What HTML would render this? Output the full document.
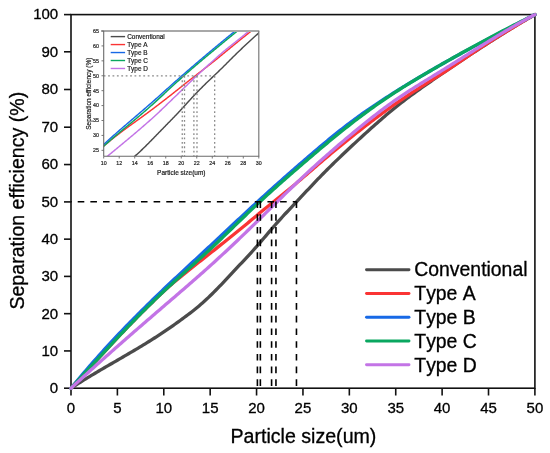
<!DOCTYPE html><html><head><meta charset="utf-8"><style>html,body{margin:0;padding:0;background:#fff;}svg{display:block;} text{font-kerning:none;} .t{stroke:#000;stroke-width:0.3px;} .it{stroke:#222;stroke-width:0.2px;}</style></head><body>
<svg width="550" height="453" viewBox="0 0 550 453" font-family='"Liberation Sans", Arial, sans-serif'>
<rect width="550" height="453" fill="#fff"/>
<rect x="71.0" y="14.6" width="463.90" height="373.60" fill="none" stroke="#111" stroke-width="1.6"/>
<line x1="71.00" y1="388.2" x2="71.00" y2="395.50" stroke="#111" stroke-width="1.6"/>
<text x="71.00" y="412.8" font-size="15" text-anchor="middle" fill="#000" class="t">0</text>
<line x1="71.0" y1="388.20" x2="64.0" y2="388.20" stroke="#111" stroke-width="1.6"/>
<text x="58.2" y="393.05" font-size="15" text-anchor="end" fill="#000" class="t">0</text>
<line x1="117.39" y1="388.2" x2="117.39" y2="395.50" stroke="#111" stroke-width="1.6"/>
<text x="117.39" y="412.8" font-size="15" text-anchor="middle" fill="#000" class="t">5</text>
<line x1="71.0" y1="350.93" x2="64.0" y2="350.93" stroke="#111" stroke-width="1.6"/>
<text x="58.2" y="355.78" font-size="15" text-anchor="end" fill="#000" class="t">10</text>
<line x1="163.78" y1="388.2" x2="163.78" y2="395.50" stroke="#111" stroke-width="1.6"/>
<text x="163.78" y="412.8" font-size="15" text-anchor="middle" fill="#000" class="t">10</text>
<line x1="71.0" y1="313.67" x2="64.0" y2="313.67" stroke="#111" stroke-width="1.6"/>
<text x="58.2" y="318.52" font-size="15" text-anchor="end" fill="#000" class="t">20</text>
<line x1="210.17" y1="388.2" x2="210.17" y2="395.50" stroke="#111" stroke-width="1.6"/>
<text x="210.17" y="412.8" font-size="15" text-anchor="middle" fill="#000" class="t">15</text>
<line x1="71.0" y1="276.40" x2="64.0" y2="276.40" stroke="#111" stroke-width="1.6"/>
<text x="58.2" y="281.25" font-size="15" text-anchor="end" fill="#000" class="t">30</text>
<line x1="256.56" y1="388.2" x2="256.56" y2="395.50" stroke="#111" stroke-width="1.6"/>
<text x="256.56" y="412.8" font-size="15" text-anchor="middle" fill="#000" class="t">20</text>
<line x1="71.0" y1="239.15" x2="64.0" y2="239.15" stroke="#111" stroke-width="1.6"/>
<text x="58.2" y="244.00" font-size="15" text-anchor="end" fill="#000" class="t">40</text>
<line x1="302.95" y1="388.2" x2="302.95" y2="395.50" stroke="#111" stroke-width="1.6"/>
<text x="302.95" y="412.8" font-size="15" text-anchor="middle" fill="#000" class="t">25</text>
<line x1="71.0" y1="201.90" x2="64.0" y2="201.90" stroke="#111" stroke-width="1.6"/>
<text x="58.2" y="206.75" font-size="15" text-anchor="end" fill="#000" class="t">50</text>
<line x1="349.34" y1="388.2" x2="349.34" y2="395.50" stroke="#111" stroke-width="1.6"/>
<text x="349.34" y="412.8" font-size="15" text-anchor="middle" fill="#000" class="t">30</text>
<line x1="71.0" y1="164.55" x2="64.0" y2="164.55" stroke="#111" stroke-width="1.6"/>
<text x="58.2" y="169.40" font-size="15" text-anchor="end" fill="#000" class="t">60</text>
<line x1="395.73" y1="388.2" x2="395.73" y2="395.50" stroke="#111" stroke-width="1.6"/>
<text x="395.73" y="412.8" font-size="15" text-anchor="middle" fill="#000" class="t">35</text>
<line x1="71.0" y1="127.20" x2="64.0" y2="127.20" stroke="#111" stroke-width="1.6"/>
<text x="58.2" y="132.05" font-size="15" text-anchor="end" fill="#000" class="t">70</text>
<line x1="442.12" y1="388.2" x2="442.12" y2="395.50" stroke="#111" stroke-width="1.6"/>
<text x="442.12" y="412.8" font-size="15" text-anchor="middle" fill="#000" class="t">40</text>
<line x1="71.0" y1="89.50" x2="64.0" y2="89.50" stroke="#111" stroke-width="1.6"/>
<text x="58.2" y="94.35" font-size="15" text-anchor="end" fill="#000" class="t">80</text>
<line x1="488.51" y1="388.2" x2="488.51" y2="395.50" stroke="#111" stroke-width="1.6"/>
<text x="488.51" y="412.8" font-size="15" text-anchor="middle" fill="#000" class="t">45</text>
<line x1="71.0" y1="51.80" x2="64.0" y2="51.80" stroke="#111" stroke-width="1.6"/>
<text x="58.2" y="56.65" font-size="15" text-anchor="end" fill="#000" class="t">90</text>
<line x1="534.90" y1="388.2" x2="534.90" y2="395.50" stroke="#111" stroke-width="1.6"/>
<text x="534.90" y="412.8" font-size="15" text-anchor="middle" fill="#000" class="t">50</text>
<line x1="71.0" y1="14.60" x2="64.0" y2="14.60" stroke="#111" stroke-width="1.6"/>
<text x="58.2" y="19.45" font-size="15" text-anchor="end" fill="#000" class="t">100</text>
<text x="230.5" y="442.8" font-size="19.6" fill="#000" class="t">Particle size(um)</text>
<text transform="translate(24.4,309.6) rotate(-90)" x="0" y="0" font-size="19.6" fill="#000" class="t">Separation efficiency (%)</text>
<polyline points="71.00,388.20 72.86,386.99 74.71,385.79 76.57,384.60 78.42,383.43 80.28,382.26 82.13,381.10 83.99,379.95 85.84,378.81 87.70,377.68 89.56,376.56 91.41,375.44 93.27,374.33 95.12,373.22 96.98,372.12 98.83,371.03 100.69,369.94 102.55,368.85 104.40,367.77 106.26,366.69 108.11,365.62 109.97,364.54 111.82,363.47 113.68,362.39 115.53,361.32 117.39,360.25 119.25,359.18 121.10,358.10 122.96,357.03 124.81,355.95 126.67,354.87 128.52,353.79 130.38,352.70 132.23,351.61 134.09,350.51 135.95,349.41 137.80,348.30 139.66,347.19 141.51,346.07 143.37,344.94 145.22,343.81 147.08,342.67 148.94,341.52 150.79,340.35 152.65,339.18 154.50,338.00 156.36,336.81 158.21,335.61 160.07,334.39 161.92,333.17 163.78,331.93 165.64,330.67 167.49,329.41 169.35,328.13 171.20,326.84 173.06,325.54 174.91,324.23 176.77,322.91 178.62,321.57 180.48,320.23 182.34,318.88 184.19,317.53 186.05,316.16 187.90,314.77 189.76,313.37 191.61,311.94 193.47,310.49 195.33,309.01 197.18,307.49 199.04,305.94 200.89,304.35 202.75,302.72 204.60,301.04 206.46,299.33 208.31,297.58 210.17,295.80 212.03,293.98 213.88,292.14 215.74,290.27 217.59,288.38 219.45,286.46 221.30,284.53 223.16,282.58 225.01,280.62 226.87,278.64 228.73,276.66 230.58,274.67 232.44,272.68 234.29,270.69 236.15,268.70 238.00,266.71 239.86,264.74 241.72,262.76 243.57,260.78 245.43,258.80 247.28,256.81 249.14,254.81 250.99,252.79 252.85,250.75 254.70,248.69 256.56,246.60 258.42,244.48 260.27,242.33 262.13,240.17 263.98,237.99 265.84,235.81 267.69,233.62 269.55,231.44 271.40,229.27 273.26,227.12 275.12,225.00 276.97,222.90 278.83,220.83 280.68,218.78 282.54,216.75 284.39,214.74 286.25,212.75 288.11,210.76 289.96,208.79 291.82,206.82 293.67,204.85 295.53,202.89 297.38,200.91 299.24,198.93 301.09,196.94 302.95,194.96 304.81,192.97 306.66,190.99 308.52,189.01 310.37,187.03 312.23,185.06 314.08,183.10 315.94,181.15 317.79,179.21 319.65,177.29 321.51,175.38 323.36,173.49 325.22,171.61 327.07,169.75 328.93,167.91 330.78,166.07 332.64,164.25 334.50,162.44 336.35,160.65 338.21,158.86 340.06,157.08 341.92,155.31 343.77,153.55 345.63,151.80 347.48,150.05 349.34,148.30 351.20,146.56 353.05,144.83 354.91,143.10 356.76,141.37 358.62,139.66 360.47,137.95 362.33,136.24 364.18,134.55 366.04,132.86 367.90,131.18 369.75,129.51 371.61,127.85 373.46,126.19 375.32,124.54 377.17,122.90 379.03,121.26 380.89,119.65 382.74,118.04 384.60,116.45 386.45,114.87 388.31,113.31 390.16,111.76 392.02,110.23 393.87,108.72 395.73,107.22 397.59,105.74 399.44,104.27 401.30,102.82 403.15,101.39 405.01,99.97 406.86,98.56 408.72,97.17 410.57,95.79 412.43,94.43 414.29,93.07 416.14,91.72 418.00,90.39 419.85,89.06 421.71,87.75 423.56,86.44 425.42,85.14 427.28,83.85 429.13,82.56 430.99,81.28 432.84,80.00 434.70,78.73 436.55,77.46 438.41,76.19 440.26,74.93 442.12,73.67 443.98,72.41 445.83,71.15 447.69,69.89 449.54,68.63 451.40,67.38 453.25,66.12 455.11,64.87 456.96,63.62 458.82,62.37 460.68,61.13 462.53,59.88 464.39,58.64 466.24,57.40 468.10,56.17 469.95,54.93 471.81,53.70 473.67,52.47 475.52,51.25 477.38,50.05 479.23,48.84 481.09,47.64 482.94,46.44 484.80,45.25 486.65,44.06 488.51,42.87 490.37,41.69 492.22,40.51 494.08,39.33 495.93,38.16 497.79,36.99 499.64,35.83 501.50,34.66 503.35,33.51 505.21,32.36 507.07,31.21 508.92,30.07 510.78,28.93 512.63,27.79 514.49,26.67 516.34,25.54 518.20,24.42 520.06,23.31 521.91,22.20 523.77,21.10 525.62,20.00 527.48,18.91 529.33,17.82 531.19,16.74 533.04,15.67 534.90,14.60" fill="none" stroke="#4b4b4b" stroke-width="3.3" stroke-linejoin="round" stroke-linecap="round"/>
<polyline points="71.00,388.20 72.86,386.16 74.71,384.13 76.57,382.09 78.42,380.05 80.28,378.02 82.13,375.99 83.99,373.95 85.84,371.92 87.70,369.89 89.56,367.87 91.41,365.84 93.27,363.82 95.12,361.80 96.98,359.79 98.83,357.78 100.69,355.77 102.55,353.76 104.40,351.76 106.26,349.77 108.11,347.77 109.97,345.79 111.82,343.80 113.68,341.83 115.53,339.86 117.39,337.89 119.25,335.93 121.10,333.98 122.96,332.03 124.81,330.09 126.67,328.16 128.52,326.23 130.38,324.31 132.23,322.40 134.09,320.50 135.95,318.60 137.80,316.71 139.66,314.83 141.51,312.96 143.37,311.10 145.22,309.25 147.08,307.41 148.94,305.58 150.79,303.76 152.65,301.95 154.50,300.15 156.36,298.36 158.21,296.58 160.07,294.81 161.92,293.05 163.78,291.31 165.64,289.60 167.49,287.94 169.35,286.31 171.20,284.71 173.06,283.12 174.91,281.53 176.77,279.97 178.62,278.42 180.48,276.89 182.34,275.38 184.19,273.87 186.05,272.38 187.90,270.89 189.76,269.40 191.61,267.92 193.47,266.45 195.33,264.98 197.18,263.52 199.04,262.07 200.89,260.61 202.75,259.16 204.60,257.71 206.46,256.25 208.31,254.78 210.17,253.31 212.03,251.82 213.88,250.34 215.74,248.86 217.59,247.38 219.45,245.90 221.30,244.41 223.16,242.93 225.01,241.45 226.87,239.96 228.73,238.47 230.58,236.98 232.44,235.49 234.29,234.00 236.15,232.50 238.00,230.99 239.86,229.49 241.72,227.98 243.57,226.46 245.43,224.94 247.28,223.41 249.14,221.88 250.99,220.34 252.85,218.79 254.70,217.24 256.56,215.68 258.42,214.13 260.27,212.58 262.13,211.04 263.98,209.52 265.84,208.00 267.69,206.49 269.55,204.99 271.40,203.49 273.26,201.99 275.12,200.50 276.97,199.00 278.83,197.51 280.68,196.01 282.54,194.52 284.39,193.02 286.25,191.51 288.11,190.01 289.96,188.49 291.82,186.97 293.67,185.44 295.53,183.90 297.38,182.35 299.24,180.79 301.09,179.21 302.95,177.62 304.81,176.03 306.66,174.43 308.52,172.83 310.37,171.24 312.23,169.64 314.08,168.05 315.94,166.46 317.79,164.87 319.65,163.28 321.51,161.70 323.36,160.12 325.22,158.55 327.07,156.98 328.93,155.41 330.78,153.85 332.64,152.30 334.50,150.75 336.35,149.22 338.21,147.68 340.06,146.16 341.92,144.64 343.77,143.13 345.63,141.63 347.48,140.15 349.34,138.67 351.20,137.19 353.05,135.73 354.91,134.26 356.76,132.80 358.62,131.35 360.47,129.90 362.33,128.46 364.18,127.02 366.04,125.57 367.90,124.14 369.75,122.71 371.61,121.29 373.46,119.87 375.32,118.47 377.17,117.07 379.03,115.68 380.89,114.30 382.74,112.93 384.60,111.57 386.45,110.22 388.31,108.88 390.16,107.55 392.02,106.24 393.87,104.93 395.73,103.64 397.59,102.36 399.44,101.09 401.30,99.82 403.15,98.57 405.01,97.33 406.86,96.10 408.72,94.87 410.57,93.65 412.43,92.44 414.29,91.23 416.14,90.03 418.00,88.84 419.85,87.65 421.71,86.46 423.56,85.27 425.42,84.09 427.28,82.91 429.13,81.73 430.99,80.56 432.84,79.38 434.70,78.20 436.55,77.02 438.41,75.84 440.26,74.66 442.12,73.48 443.98,72.29 445.83,71.08 447.69,69.87 449.54,68.65 451.40,67.42 453.25,66.18 455.11,64.94 456.96,63.69 458.82,62.44 460.68,61.18 462.53,59.92 464.39,58.66 466.24,57.40 468.10,56.14 469.95,54.88 471.81,53.63 473.67,52.37 475.52,51.13 477.38,49.90 479.23,48.68 481.09,47.46 482.94,46.25 484.80,45.06 486.65,43.87 488.51,42.69 490.37,41.51 492.22,40.35 494.08,39.18 495.93,38.02 497.79,36.86 499.64,35.71 501.50,34.56 503.35,33.42 505.21,32.28 507.07,31.14 508.92,30.01 510.78,28.88 512.63,27.75 514.49,26.63 516.34,25.52 518.20,24.40 520.06,23.30 521.91,22.19 523.77,21.10 525.62,20.00 527.48,18.91 529.33,17.83 531.19,16.75 533.04,15.67 534.90,14.60" fill="none" stroke="#fa3434" stroke-width="3.3" stroke-linejoin="round" stroke-linecap="round"/>
<polyline points="71.00,388.20 72.86,385.93 74.71,383.68 76.57,381.45 78.42,379.22 80.28,377.01 82.13,374.82 83.99,372.64 85.84,370.47 87.70,368.31 89.56,366.17 91.41,364.04 93.27,361.92 95.12,359.82 96.98,357.73 98.83,355.65 100.69,353.58 102.55,351.52 104.40,349.48 106.26,347.44 108.11,345.42 109.97,343.41 111.82,341.41 113.68,339.42 115.53,337.44 117.39,335.47 119.25,333.51 121.10,331.56 122.96,329.62 124.81,327.69 126.67,325.77 128.52,323.86 130.38,321.96 132.23,320.06 134.09,318.18 135.95,316.30 137.80,314.44 139.66,312.58 141.51,310.72 143.37,308.88 145.22,307.05 147.08,305.22 148.94,303.40 150.79,301.58 152.65,299.78 154.50,297.98 156.36,296.18 158.21,294.39 160.07,292.61 161.92,290.84 163.78,289.07 165.64,287.31 167.49,285.55 169.35,283.80 171.20,282.05 173.06,280.31 174.91,278.57 176.77,276.83 178.62,275.10 180.48,273.37 182.34,271.64 184.19,269.92 186.05,268.20 187.90,266.48 189.76,264.76 191.61,263.04 193.47,261.33 195.33,259.61 197.18,257.90 199.04,256.18 200.89,254.46 202.75,252.74 204.60,251.02 206.46,249.30 208.31,247.58 210.17,245.85 212.03,244.13 213.88,242.40 215.74,240.66 217.59,238.93 219.45,237.20 221.30,235.46 223.16,233.72 225.01,231.98 226.87,230.25 228.73,228.51 230.58,226.77 232.44,225.03 234.29,223.30 236.15,221.56 238.00,219.83 239.86,218.10 241.72,216.37 243.57,214.64 245.43,212.92 247.28,211.19 249.14,209.48 250.99,207.76 252.85,206.05 254.70,204.35 256.56,202.65 258.42,200.95 260.27,199.25 262.13,197.56 263.98,195.87 265.84,194.19 267.69,192.51 269.55,190.84 271.40,189.17 273.26,187.50 275.12,185.84 276.97,184.19 278.83,182.53 280.68,180.88 282.54,179.24 284.39,177.60 286.25,175.96 288.11,174.33 289.96,172.70 291.82,171.07 293.67,169.45 295.53,167.83 297.38,166.21 299.24,164.59 301.09,162.98 302.95,161.38 304.81,159.77 306.66,158.17 308.52,156.57 310.37,154.98 312.23,153.39 314.08,151.80 315.94,150.23 317.79,148.65 319.65,147.09 321.51,145.53 323.36,143.98 325.22,142.43 327.07,140.90 328.93,139.37 330.78,137.85 332.64,136.35 334.50,134.85 336.35,133.36 338.21,131.88 340.06,130.42 341.92,128.97 343.77,127.52 345.63,126.09 347.48,124.66 349.34,123.24 351.20,121.84 353.05,120.45 354.91,119.08 356.76,117.72 358.62,116.37 360.47,115.04 362.33,113.71 364.18,112.40 366.04,111.10 367.90,109.81 369.75,108.53 371.61,107.27 373.46,106.01 375.32,104.76 377.17,103.52 379.03,102.29 380.89,101.07 382.74,99.86 384.60,98.65 386.45,97.46 388.31,96.27 390.16,95.08 392.02,93.91 393.87,92.74 395.73,91.57 397.59,90.42 399.44,89.26 401.30,88.12 403.15,86.97 405.01,85.84 406.86,84.71 408.72,83.58 410.57,82.46 412.43,81.34 414.29,80.23 416.14,79.12 418.00,78.02 419.85,76.92 421.71,75.83 423.56,74.74 425.42,73.65 427.28,72.57 429.13,71.49 430.99,70.42 432.84,69.35 434.70,68.28 436.55,67.22 438.41,66.16 440.26,65.10 442.12,64.05 443.98,63.00 445.83,61.96 447.69,60.91 449.54,59.87 451.40,58.84 453.25,57.80 455.11,56.77 456.96,55.74 458.82,54.72 460.68,53.69 462.53,52.67 464.39,51.66 466.24,50.65 468.10,49.65 469.95,48.65 471.81,47.66 473.67,46.66 475.52,45.67 477.38,44.68 479.23,43.69 481.09,42.71 482.94,41.72 484.80,40.74 486.65,39.76 488.51,38.78 490.37,37.80 492.22,36.83 494.08,35.85 495.93,34.88 497.79,33.90 499.64,32.93 501.50,31.96 503.35,30.99 505.21,30.02 507.07,29.05 508.92,28.09 510.78,27.12 512.63,26.16 514.49,25.19 516.34,24.23 518.20,23.26 520.06,22.30 521.91,21.34 523.77,20.37 525.62,19.41 527.48,18.45 529.33,17.49 531.19,16.52 533.04,15.56 534.90,14.60" fill="none" stroke="#1769e6" stroke-width="3.3" stroke-linejoin="round" stroke-linecap="round"/>
<polyline points="71.00,388.20 72.86,386.16 74.71,384.13 76.57,382.09 78.42,380.05 80.28,378.02 82.13,375.99 83.99,373.95 85.84,371.92 87.70,369.89 89.56,367.87 91.41,365.84 93.27,363.82 95.12,361.80 96.98,359.79 98.83,357.78 100.69,355.77 102.55,353.76 104.40,351.76 106.26,349.77 108.11,347.77 109.97,345.79 111.82,343.80 113.68,341.83 115.53,339.86 117.39,337.89 119.25,335.93 121.10,333.98 122.96,332.03 124.81,330.09 126.67,328.16 128.52,326.23 130.38,324.31 132.23,322.40 134.09,320.50 135.95,318.60 137.80,316.71 139.66,314.83 141.51,312.96 143.37,311.10 145.22,309.25 147.08,307.41 148.94,305.58 150.79,303.76 152.65,301.95 154.50,300.15 156.36,298.36 158.21,296.58 160.07,294.81 161.92,293.05 163.78,291.31 165.64,289.57 167.49,287.85 169.35,286.14 171.20,284.44 173.06,282.74 174.91,281.06 176.77,279.38 178.62,277.70 180.48,276.03 182.34,274.36 184.19,272.70 186.05,271.04 187.90,269.38 189.76,267.72 191.61,266.06 193.47,264.40 195.33,262.73 197.18,261.06 199.04,259.39 200.89,257.71 202.75,256.03 204.60,254.34 206.46,252.64 208.31,250.93 210.17,249.21 212.03,247.48 213.88,245.74 215.74,243.99 217.59,242.23 219.45,240.47 221.30,238.70 223.16,236.92 225.01,235.14 226.87,233.35 228.73,231.56 230.58,229.77 232.44,227.98 234.29,226.18 236.15,224.39 238.00,222.59 239.86,220.80 241.72,219.01 243.57,217.22 245.43,215.44 247.28,213.66 249.14,211.89 250.99,210.13 252.85,208.37 254.70,206.62 256.56,204.88 258.42,203.15 260.27,201.43 262.13,199.71 263.98,198.00 265.84,196.30 267.69,194.61 269.55,192.93 271.40,191.26 273.26,189.59 275.12,187.93 276.97,186.27 278.83,184.62 280.68,182.98 282.54,181.35 284.39,179.71 286.25,178.09 288.11,176.47 289.96,174.85 291.82,173.24 293.67,171.62 295.53,170.02 297.38,168.41 299.24,166.81 301.09,165.21 302.95,163.62 304.81,162.02 306.66,160.43 308.52,158.84 310.37,157.25 312.23,155.66 314.08,154.08 315.94,152.50 317.79,150.93 319.65,149.36 321.51,147.79 323.36,146.23 325.22,144.68 327.07,143.13 328.93,141.59 330.78,140.05 332.64,138.52 334.50,137.00 336.35,135.49 338.21,133.98 340.06,132.49 341.92,131.00 343.77,129.52 345.63,128.05 347.48,126.59 349.34,125.13 351.20,123.68 353.05,122.23 354.91,120.81 356.76,119.39 358.62,117.98 360.47,116.58 362.33,115.19 364.18,113.81 366.04,112.45 367.90,111.09 369.75,109.75 371.61,108.41 373.46,107.08 375.32,105.77 377.17,104.46 379.03,103.17 380.89,101.88 382.74,100.61 384.60,99.34 386.45,98.09 388.31,96.84 390.16,95.60 392.02,94.38 393.87,93.16 395.73,91.95 397.59,90.75 399.44,89.56 401.30,88.38 403.15,87.21 405.01,86.05 406.86,84.89 408.72,83.74 410.57,82.60 412.43,81.47 414.29,80.34 416.14,79.22 418.00,78.11 419.85,77.00 421.71,75.90 423.56,74.80 425.42,73.71 427.28,72.62 429.13,71.54 430.99,70.46 432.84,69.38 434.70,68.31 436.55,67.24 438.41,66.18 440.26,65.11 442.12,64.05 443.98,62.99 445.83,61.94 447.69,60.88 449.54,59.83 451.40,58.78 453.25,57.73 455.11,56.68 456.96,55.63 458.82,54.59 460.68,53.55 462.53,52.51 464.39,51.48 466.24,50.46 468.10,49.44 469.95,48.43 471.81,47.41 473.67,46.40 475.52,45.40 477.38,44.39 479.23,43.39 481.09,42.39 482.94,41.39 484.80,40.39 486.65,39.40 488.51,38.41 490.37,37.42 492.22,36.44 494.08,35.45 495.93,34.47 497.79,33.50 499.64,32.52 501.50,31.55 503.35,30.58 505.21,29.62 507.07,28.66 508.92,27.70 510.78,26.74 512.63,25.79 514.49,24.84 516.34,23.89 518.20,22.95 520.06,22.01 521.91,21.07 523.77,20.14 525.62,19.20 527.48,18.28 529.33,17.35 531.19,16.43 533.04,15.51 534.90,14.60" fill="none" stroke="#0aa760" stroke-width="3.3" stroke-linejoin="round" stroke-linecap="round"/>
<polyline points="71.00,388.20 72.86,386.49 74.71,384.78 76.57,383.08 78.42,381.38 80.28,379.68 82.13,377.99 83.99,376.31 85.84,374.62 87.70,372.94 89.56,371.26 91.41,369.59 93.27,367.92 95.12,366.25 96.98,364.58 98.83,362.92 100.69,361.26 102.55,359.61 104.40,357.95 106.26,356.30 108.11,354.66 109.97,353.01 111.82,351.37 113.68,349.73 115.53,348.10 117.39,346.46 119.25,344.83 121.10,343.20 122.96,341.57 124.81,339.95 126.67,338.32 128.52,336.70 130.38,335.08 132.23,333.47 134.09,331.85 135.95,330.24 137.80,328.63 139.66,327.02 141.51,325.41 143.37,323.80 145.22,322.20 147.08,320.59 148.94,318.99 150.79,317.39 152.65,315.79 154.50,314.19 156.36,312.59 158.21,311.00 160.07,309.40 161.92,307.81 163.78,306.21 165.64,304.62 167.49,303.03 169.35,301.44 171.20,299.84 173.06,298.25 174.91,296.66 176.77,295.06 178.62,293.46 180.48,291.86 182.34,290.26 184.19,288.66 186.05,287.06 187.90,285.45 189.76,283.83 191.61,282.22 193.47,280.60 195.33,278.97 197.18,277.34 199.04,275.71 200.89,274.07 202.75,272.43 204.60,270.78 206.46,269.12 208.31,267.45 210.17,265.78 212.03,264.11 213.88,262.42 215.74,260.73 217.59,259.03 219.45,257.32 221.30,255.61 223.16,253.89 225.01,252.17 226.87,250.44 228.73,248.70 230.58,246.96 232.44,245.21 234.29,243.45 236.15,241.69 238.00,239.93 239.86,238.16 241.72,236.38 243.57,234.60 245.43,232.82 247.28,231.03 249.14,229.23 250.99,227.43 252.85,225.63 254.70,223.83 256.56,222.01 258.42,220.20 260.27,218.38 262.13,216.56 263.98,214.74 265.84,212.92 267.69,211.09 269.55,209.27 271.40,207.44 273.26,205.62 275.12,203.79 276.97,201.97 278.83,200.15 280.68,198.32 282.54,196.51 284.39,194.69 286.25,192.88 288.11,191.08 289.96,189.28 291.82,187.48 293.67,185.69 295.53,183.91 297.38,182.14 299.24,180.38 301.09,178.62 302.95,176.88 304.81,175.14 306.66,173.41 308.52,171.69 310.37,169.99 312.23,168.29 314.08,166.60 315.94,164.92 317.79,163.24 319.65,161.58 321.51,159.92 323.36,158.28 325.22,156.64 327.07,155.01 328.93,153.38 330.78,151.76 332.64,150.16 334.50,148.55 336.35,146.96 338.21,145.37 340.06,143.79 341.92,142.21 343.77,140.65 345.63,139.08 347.48,137.53 349.34,135.98 351.20,134.43 353.05,132.89 354.91,131.36 356.76,129.84 358.62,128.32 360.47,126.81 362.33,125.29 364.18,123.78 366.04,122.28 367.90,120.79 369.75,119.32 371.61,117.85 373.46,116.39 375.32,114.94 377.17,113.51 379.03,112.08 380.89,110.67 382.74,109.27 384.60,107.89 386.45,106.51 388.31,105.15 390.16,103.81 392.02,102.48 393.87,101.17 395.73,99.87 397.59,98.58 399.44,97.32 401.30,96.06 403.15,94.82 405.01,93.60 406.86,92.38 408.72,91.18 410.57,89.98 412.43,88.80 414.29,87.62 416.14,86.45 418.00,85.29 419.85,84.14 421.71,82.99 423.56,81.84 425.42,80.70 427.28,79.56 429.13,78.42 430.99,77.29 432.84,76.15 434.70,75.02 436.55,73.88 438.41,72.75 440.26,71.61 442.12,70.46 443.98,69.31 445.83,68.16 447.69,67.00 449.54,65.85 451.40,64.68 453.25,63.52 455.11,62.35 456.96,61.18 458.82,60.01 460.68,58.83 462.53,57.66 464.39,56.48 466.24,55.31 468.10,54.13 469.95,52.95 471.81,51.77 473.67,50.61 475.52,49.45 477.38,48.30 479.23,47.14 481.09,45.98 482.94,44.83 484.80,43.68 486.65,42.53 488.51,41.38 490.37,40.24 492.22,39.10 494.08,37.97 495.93,36.84 497.79,35.71 499.64,34.59 501.50,33.47 503.35,32.36 505.21,31.26 507.07,30.16 508.92,29.07 510.78,27.98 512.63,26.90 514.49,25.83 516.34,24.76 518.20,23.71 520.06,22.66 521.91,21.62 523.77,20.59 525.62,19.57 527.48,18.55 529.33,17.55 531.19,16.56 533.04,15.57 534.90,14.60" fill="none" stroke="#c374e6" stroke-width="3.3" stroke-linejoin="round" stroke-linecap="round"/>
<line x1="71.00" y1="201.8" x2="296.6" y2="201.8" stroke="#000" stroke-width="1.6" stroke-dasharray="6.6 6.05" stroke-dashoffset="5.95"/>
<line x1="257.40" y1="201.50" x2="257.40" y2="388.20" stroke="#000" stroke-width="1.6" stroke-dasharray="6.6 6.1"/>
<line x1="260.36" y1="201.50" x2="260.36" y2="388.20" stroke="#000" stroke-width="1.6" stroke-dasharray="6.6 6.1"/>
<line x1="271.59" y1="201.50" x2="271.59" y2="388.20" stroke="#000" stroke-width="1.6" stroke-dasharray="6.6 6.1"/>
<line x1="275.95" y1="201.50" x2="275.95" y2="388.20" stroke="#000" stroke-width="1.6" stroke-dasharray="6.6 6.1"/>
<line x1="296.46" y1="201.50" x2="296.46" y2="388.20" stroke="#000" stroke-width="1.6" stroke-dasharray="6.6 6.1"/>
<line x1="366.5" y1="269.80" x2="409" y2="269.80" stroke="#4b4b4b" stroke-width="2.9" stroke-linecap="round"/>
<text x="414.3" y="276.30" font-size="19.4" fill="#000" class="t">Conventional</text>
<line x1="366.5" y1="293.55" x2="409" y2="293.55" stroke="#fa3434" stroke-width="2.9" stroke-linecap="round"/>
<text x="414.3" y="300.15" font-size="19.4" fill="#000" class="t">Type A</text>
<line x1="366.5" y1="317.30" x2="409" y2="317.30" stroke="#1769e6" stroke-width="2.9" stroke-linecap="round"/>
<text x="414.3" y="324.00" font-size="19.4" fill="#000" class="t">Type B</text>
<line x1="366.5" y1="341.05" x2="409" y2="341.05" stroke="#0aa760" stroke-width="2.9" stroke-linecap="round"/>
<text x="414.3" y="347.85" font-size="19.4" fill="#000" class="t">Type C</text>
<line x1="366.5" y1="364.80" x2="409" y2="364.80" stroke="#c374e6" stroke-width="2.9" stroke-linecap="round"/>
<text x="414.3" y="371.70" font-size="19.4" fill="#000" class="t">Type D</text>
<clipPath id="ic"><rect x="103.7" y="31.0" width="155.10" height="125.30"/></clipPath>
<g clip-path="url(#ic)">
<polyline points="99.82,182.33 100.37,181.99 100.91,181.65 101.46,181.30 102.00,180.95 102.55,180.61 103.09,180.26 103.64,179.91 104.18,179.56 104.72,179.20 105.27,178.83 105.81,178.46 106.36,178.09 106.90,177.71 107.45,177.33 107.99,176.94 108.54,176.55 109.08,176.15 109.63,175.75 110.17,175.35 110.72,174.95 111.26,174.54 111.81,174.13 112.35,173.72 112.89,173.31 113.44,172.90 113.98,172.49 114.53,172.07 115.07,171.66 115.62,171.24 116.16,170.83 116.71,170.42 117.25,170.00 117.80,169.59 118.34,169.18 118.89,168.77 119.43,168.37 119.98,167.96 120.52,167.55 121.06,167.15 121.61,166.74 122.15,166.33 122.70,165.92 123.24,165.51 123.79,165.09 124.33,164.68 124.88,164.26 125.42,163.84 125.97,163.42 126.51,163.00 127.06,162.57 127.60,162.15 128.15,161.72 128.69,161.29 129.23,160.85 129.78,160.41 130.32,159.97 130.87,159.53 131.41,159.09 131.96,158.64 132.50,158.18 133.05,157.73 133.59,157.27 134.14,156.80 134.68,156.33 135.23,155.86 135.77,155.38 136.32,154.90 136.86,154.42 137.40,153.93 137.95,153.43 138.49,152.94 139.04,152.44 139.58,151.93 140.13,151.42 140.67,150.91 141.22,150.39 141.76,149.87 142.31,149.35 142.85,148.83 143.40,148.30 143.94,147.77 144.49,147.24 145.03,146.70 145.57,146.16 146.12,145.62 146.66,145.08 147.21,144.54 147.75,143.99 148.30,143.44 148.84,142.89 149.39,142.34 149.93,141.79 150.48,141.23 151.02,140.68 151.57,140.12 152.11,139.57 152.66,139.01 153.20,138.45 153.74,137.89 154.29,137.33 154.83,136.77 155.38,136.21 155.92,135.65 156.47,135.09 157.01,134.53 157.56,133.98 158.10,133.42 158.65,132.86 159.19,132.30 159.74,131.74 160.28,131.18 160.83,130.62 161.37,130.06 161.91,129.50 162.46,128.94 163.00,128.38 163.55,127.82 164.09,127.26 164.64,126.70 165.18,126.14 165.73,125.58 166.27,125.03 166.82,124.47 167.36,123.91 167.91,123.36 168.45,122.80 169.00,122.25 169.54,121.69 170.08,121.14 170.63,120.58 171.17,120.02 171.72,119.46 172.26,118.91 172.81,118.35 173.35,117.79 173.90,117.23 174.44,116.66 174.99,116.10 175.53,115.53 176.08,114.96 176.62,114.40 177.17,113.82 177.71,113.25 178.25,112.67 178.80,112.10 179.34,111.52 179.89,110.93 180.43,110.35 180.98,109.76 181.52,109.17 182.07,108.57 182.61,107.98 183.16,107.38 183.70,106.79 184.25,106.19 184.79,105.59 185.33,105.00 185.88,104.40 186.42,103.80 186.97,103.20 187.51,102.61 188.06,102.01 188.60,101.41 189.15,100.82 189.69,100.22 190.24,99.63 190.78,99.04 191.33,98.45 191.87,97.86 192.42,97.27 192.96,96.69 193.50,96.10 194.05,95.52 194.59,94.94 195.14,94.37 195.68,93.79 196.23,93.22 196.77,92.66 197.32,92.09 197.86,91.53 198.41,90.97 198.95,90.41 199.50,89.86 200.04,89.31 200.59,88.76 201.13,88.21 201.67,87.67 202.22,87.12 202.76,86.58 203.31,86.04 203.85,85.50 204.40,84.96 204.94,84.42 205.49,83.88 206.03,83.35 206.58,82.82 207.12,82.29 207.67,81.77 208.21,81.25 208.76,80.72 209.30,80.20 209.84,79.68 210.39,79.17 210.93,78.65 211.48,78.13 212.02,77.62 212.57,77.10 213.11,76.58 213.66,76.07 214.20,75.55 214.75,75.03 215.29,74.52 215.84,74.00 216.38,73.48 216.93,72.96 217.47,72.43 218.01,71.91 218.56,71.39 219.10,70.86 219.65,70.33 220.19,69.81 220.74,69.28 221.28,68.75 221.83,68.22 222.37,67.68 222.92,67.15 223.46,66.61 224.01,66.07 224.55,65.53 225.10,64.99 225.64,64.45 226.18,63.91 226.73,63.36 227.27,62.81 227.82,62.26 228.36,61.71 228.91,61.16 229.45,60.61 230.00,60.06 230.54,59.52 231.09,58.97 231.63,58.43 232.18,57.89 232.72,57.34 233.27,56.80 233.81,56.26 234.35,55.73 234.90,55.19 235.44,54.66 235.99,54.12 236.53,53.59 237.08,53.06 237.62,52.54 238.17,52.01 238.71,51.49 239.26,50.96 239.80,50.44 240.35,49.92 240.89,49.40 241.44,48.88 241.98,48.37 242.52,47.85 243.07,47.34 243.61,46.83 244.16,46.32 244.70,45.81 245.25,45.30 245.79,44.79 246.34,44.29 246.88,43.78 247.43,43.28 247.97,42.77 248.52,42.27 249.06,41.77 249.61,41.27 250.15,40.77 250.69,40.27 251.24,39.77 251.78,39.28 252.33,38.78 252.87,38.29 253.42,37.79 253.96,37.30 254.51,36.80 255.05,36.31 255.60,35.82 256.14,35.33 256.69,34.84 257.23,34.35 257.78,33.86 258.32,33.37 258.86,32.88 259.41,32.39 259.95,31.90 260.50,31.42 261.04,30.93 261.59,30.44 262.13,29.96 262.68,29.47" fill="none" stroke="#4b4b4b" stroke-width="1.45" stroke-linejoin="round"/>
<polyline points="99.82,149.67 100.37,149.17 100.91,148.67 101.46,148.18 102.00,147.69 102.55,147.20 103.09,146.70 103.64,146.21 104.18,145.73 104.72,145.25 105.27,144.77 105.81,144.31 106.36,143.84 106.90,143.38 107.45,142.93 107.99,142.47 108.54,142.02 109.08,141.58 109.63,141.13 110.17,140.69 110.72,140.25 111.26,139.80 111.81,139.36 112.35,138.92 112.89,138.48 113.44,138.05 113.98,137.62 114.53,137.19 115.07,136.76 115.62,136.33 116.16,135.91 116.71,135.48 117.25,135.06 117.80,134.64 118.34,134.22 118.89,133.80 119.43,133.39 119.98,132.97 120.52,132.56 121.06,132.15 121.61,131.74 122.15,131.33 122.70,130.93 123.24,130.52 123.79,130.12 124.33,129.72 124.88,129.31 125.42,128.91 125.97,128.51 126.51,128.11 127.06,127.71 127.60,127.32 128.15,126.92 128.69,126.52 129.23,126.13 129.78,125.74 130.32,125.34 130.87,124.95 131.41,124.56 131.96,124.17 132.50,123.77 133.05,123.38 133.59,122.99 134.14,122.60 134.68,122.21 135.23,121.81 135.77,121.42 136.32,121.03 136.86,120.64 137.40,120.24 137.95,119.85 138.49,119.46 139.04,119.07 139.58,118.67 140.13,118.28 140.67,117.88 141.22,117.49 141.76,117.09 142.31,116.70 142.85,116.30 143.40,115.90 143.94,115.50 144.49,115.10 145.03,114.70 145.57,114.30 146.12,113.90 146.66,113.50 147.21,113.11 147.75,112.70 148.30,112.30 148.84,111.90 149.39,111.50 149.93,111.10 150.48,110.70 151.02,110.29 151.57,109.89 152.11,109.48 152.66,109.08 153.20,108.67 153.74,108.26 154.29,107.85 154.83,107.44 155.38,107.03 155.92,106.62 156.47,106.20 157.01,105.79 157.56,105.37 158.10,104.95 158.65,104.53 159.19,104.11 159.74,103.69 160.28,103.28 160.83,102.86 161.37,102.43 161.91,102.01 162.46,101.59 163.00,101.17 163.55,100.75 164.09,100.33 164.64,99.91 165.18,99.48 165.73,99.06 166.27,98.64 166.82,98.21 167.36,97.79 167.91,97.37 168.45,96.94 169.00,96.51 169.54,96.09 170.08,95.66 170.63,95.23 171.17,94.81 171.72,94.38 172.26,93.95 172.81,93.52 173.35,93.09 173.90,92.66 174.44,92.23 174.99,91.80 175.53,91.37 176.08,90.93 176.62,90.50 177.17,90.07 177.71,89.63 178.25,89.20 178.80,88.76 179.34,88.32 179.89,87.89 180.43,87.45 180.98,87.01 181.52,86.57 182.07,86.13 182.61,85.69 183.16,85.26 183.70,84.82 184.25,84.39 184.79,83.95 185.33,83.52 185.88,83.09 186.42,82.66 186.97,82.23 187.51,81.80 188.06,81.38 188.60,80.95 189.15,80.53 189.69,80.10 190.24,79.68 190.78,79.25 191.33,78.83 191.87,78.41 192.42,77.98 192.96,77.56 193.50,77.14 194.05,76.72 194.59,76.30 195.14,75.88 195.68,75.46 196.23,75.04 196.77,74.62 197.32,74.20 197.86,73.78 198.41,73.36 198.95,72.94 199.50,72.52 200.04,72.10 200.59,71.68 201.13,71.27 201.67,70.85 202.22,70.43 202.76,70.01 203.31,69.59 203.85,69.17 204.40,68.75 204.94,68.32 205.49,67.90 206.03,67.48 206.58,67.06 207.12,66.63 207.67,66.21 208.21,65.79 208.76,65.36 209.30,64.94 209.84,64.51 210.39,64.08 210.93,63.65 211.48,63.23 212.02,62.80 212.57,62.37 213.11,61.93 213.66,61.50 214.20,61.07 214.75,60.63 215.29,60.20 215.84,59.76 216.38,59.32 216.93,58.88 217.47,58.44 218.01,58.00 218.56,57.56 219.10,57.11 219.65,56.67 220.19,56.22 220.74,55.77 221.28,55.32 221.83,54.88 222.37,54.43 222.92,53.98 223.46,53.53 224.01,53.08 224.55,52.64 225.10,52.19 225.64,51.74 226.18,51.29 226.73,50.85 227.27,50.40 227.82,49.95 228.36,49.50 228.91,49.06 229.45,48.61 230.00,48.16 230.54,47.72 231.09,47.27 231.63,46.83 232.18,46.38 232.72,45.94 233.27,45.49 233.81,45.05 234.35,44.60 234.90,44.16 235.44,43.71 235.99,43.27 236.53,42.83 237.08,42.39 237.62,41.94 238.17,41.50 238.71,41.06 239.26,40.62 239.80,40.18 240.35,39.74 240.89,39.30 241.44,38.86 241.98,38.42 242.52,37.99 243.07,37.55 243.61,37.11 244.16,36.68 244.70,36.24 245.25,35.81 245.79,35.37 246.34,34.94 246.88,34.51 247.43,34.08 247.97,33.65 248.52,33.21 249.06,32.79 249.61,32.36 250.15,31.93 250.69,31.50 251.24,31.07 251.78,30.65 252.33,30.22 252.87,29.80 253.42,29.38 253.96,28.95 254.51,28.53 255.05,28.11 255.60,27.69 256.14,27.27 256.69,26.85 257.23,26.44 257.78,26.02 258.32,25.61 258.86,25.19 259.41,24.78 259.95,24.37 260.50,23.95 261.04,23.54 261.59,23.13 262.13,22.72 262.68,22.31" fill="none" stroke="#fa3434" stroke-width="1.45" stroke-linejoin="round"/>
<polyline points="99.82,147.92 100.37,147.42 100.91,146.92 101.46,146.42 102.00,145.92 102.55,145.42 103.09,144.92 103.64,144.43 104.18,143.93 104.72,143.43 105.27,142.94 105.81,142.45 106.36,141.96 106.90,141.47 107.45,140.98 107.99,140.49 108.54,140.00 109.08,139.51 109.63,139.02 110.17,138.54 110.72,138.05 111.26,137.57 111.81,137.09 112.35,136.60 112.89,136.12 113.44,135.64 113.98,135.16 114.53,134.68 115.07,134.20 115.62,133.72 116.16,133.24 116.71,132.76 117.25,132.28 117.80,131.80 118.34,131.33 118.89,130.85 119.43,130.37 119.98,129.89 120.52,129.42 121.06,128.95 121.61,128.47 122.15,128.00 122.70,127.53 123.24,127.06 123.79,126.60 124.33,126.13 124.88,125.66 125.42,125.19 125.97,124.73 126.51,124.26 127.06,123.80 127.60,123.33 128.15,122.87 128.69,122.40 129.23,121.94 129.78,121.47 130.32,121.01 130.87,120.55 131.41,120.08 131.96,119.62 132.50,119.15 133.05,118.68 133.59,118.22 134.14,117.75 134.68,117.28 135.23,116.82 135.77,116.35 136.32,115.88 136.86,115.41 137.40,114.95 137.95,114.48 138.49,114.01 139.04,113.55 139.58,113.08 140.13,112.62 140.67,112.15 141.22,111.68 141.76,111.22 142.31,110.75 142.85,110.28 143.40,109.82 143.94,109.35 144.49,108.88 145.03,108.41 145.57,107.94 146.12,107.47 146.66,107.00 147.21,106.53 147.75,106.06 148.30,105.59 148.84,105.12 149.39,104.64 149.93,104.17 150.48,103.70 151.02,103.22 151.57,102.74 152.11,102.27 152.66,101.79 153.20,101.31 153.74,100.83 154.29,100.35 154.83,99.87 155.38,99.39 155.92,98.90 156.47,98.42 157.01,97.93 157.56,97.44 158.10,96.95 158.65,96.47 159.19,95.98 159.74,95.49 160.28,95.00 160.83,94.51 161.37,94.02 161.91,93.53 162.46,93.05 163.00,92.56 163.55,92.07 164.09,91.58 164.64,91.09 165.18,90.61 165.73,90.12 166.27,89.63 166.82,89.15 167.36,88.66 167.91,88.17 168.45,87.69 169.00,87.20 169.54,86.71 170.08,86.23 170.63,85.74 171.17,85.26 171.72,84.77 172.26,84.29 172.81,83.80 173.35,83.32 173.90,82.84 174.44,82.35 174.99,81.87 175.53,81.39 176.08,80.91 176.62,80.42 177.17,79.94 177.71,79.46 178.25,78.98 178.80,78.50 179.34,78.02 179.89,77.54 180.43,77.06 180.98,76.59 181.52,76.11 182.07,75.63 182.61,75.15 183.16,74.68 183.70,74.20 184.25,73.73 184.79,73.25 185.33,72.78 185.88,72.30 186.42,71.83 186.97,71.36 187.51,70.88 188.06,70.41 188.60,69.94 189.15,69.47 189.69,69.00 190.24,68.53 190.78,68.06 191.33,67.59 191.87,67.12 192.42,66.65 192.96,66.18 193.50,65.71 194.05,65.24 194.59,64.78 195.14,64.31 195.68,63.84 196.23,63.38 196.77,62.91 197.32,62.45 197.86,61.98 198.41,61.52 198.95,61.05 199.50,60.59 200.04,60.13 200.59,59.67 201.13,59.20 201.67,58.74 202.22,58.28 202.76,57.82 203.31,57.36 203.85,56.90 204.40,56.44 204.94,55.98 205.49,55.52 206.03,55.06 206.58,54.60 207.12,54.14 207.67,53.68 208.21,53.23 208.76,52.77 209.30,52.31 209.84,51.86 210.39,51.40 210.93,50.94 211.48,50.49 212.02,50.03 212.57,49.58 213.11,49.12 213.66,48.67 214.20,48.21 214.75,47.76 215.29,47.31 215.84,46.85 216.38,46.40 216.93,45.95 217.47,45.50 218.01,45.05 218.56,44.59 219.10,44.14 219.65,43.69 220.19,43.24 220.74,42.79 221.28,42.34 221.83,41.89 222.37,41.44 222.92,40.99 223.46,40.54 224.01,40.10 224.55,39.65 225.10,39.20 225.64,38.75 226.18,38.31 226.73,37.86 227.27,37.41 227.82,36.97 228.36,36.52 228.91,36.08 229.45,35.64 230.00,35.19 230.54,34.75 231.09,34.31 231.63,33.87 232.18,33.43 232.72,32.99 233.27,32.55 233.81,32.11 234.35,31.67 234.90,31.23 235.44,30.80 235.99,30.36 236.53,29.93 237.08,29.49 237.62,29.06 238.17,28.62 238.71,28.19 239.26,27.76 239.80,27.33 240.35,26.90 240.89,26.47 241.44,26.04 241.98,25.62 242.52,25.19 243.07,24.77 243.61,24.34 244.16,23.92 244.70,23.50 245.25,23.07 245.79,22.65 246.34,22.23 246.88,21.82 247.43,21.40 247.97,20.98 248.52,20.57 249.06,20.15 249.61,19.74 250.15,19.33 250.69,18.92 251.24,18.51 251.78,18.10 252.33,17.69 252.87,17.29 253.42,16.88 253.96,16.48 254.51,16.08 255.05,15.68 255.60,15.28 256.14,14.88 256.69,14.48 257.23,14.08 257.78,13.69 258.32,13.30 258.86,12.90 259.41,12.51 259.95,12.12 260.50,11.74 261.04,11.35 261.59,10.97 262.13,10.58 262.68,10.20" fill="none" stroke="#1769e6" stroke-width="1.45" stroke-linejoin="round"/>
<polyline points="99.82,149.67 100.37,149.17 100.91,148.67 101.46,148.18 102.00,147.69 102.55,147.20 103.09,146.70 103.64,146.21 104.18,145.73 104.72,145.24 105.27,144.76 105.81,144.27 106.36,143.79 106.90,143.31 107.45,142.83 107.99,142.35 108.54,141.88 109.08,141.40 109.63,140.93 110.17,140.46 110.72,139.99 111.26,139.52 111.81,139.05 112.35,138.58 112.89,138.11 113.44,137.64 113.98,137.18 114.53,136.71 115.07,136.25 115.62,135.79 116.16,135.32 116.71,134.86 117.25,134.40 117.80,133.94 118.34,133.48 118.89,133.02 119.43,132.56 119.98,132.10 120.52,131.64 121.06,131.18 121.61,130.73 122.15,130.27 122.70,129.82 123.24,129.37 123.79,128.92 124.33,128.46 124.88,128.01 125.42,127.56 125.97,127.11 126.51,126.66 127.06,126.21 127.60,125.77 128.15,125.32 128.69,124.87 129.23,124.42 129.78,123.97 130.32,123.52 130.87,123.07 131.41,122.61 131.96,122.16 132.50,121.71 133.05,121.25 133.59,120.80 134.14,120.34 134.68,119.89 135.23,119.43 135.77,118.97 136.32,118.51 136.86,118.05 137.40,117.59 137.95,117.13 138.49,116.67 139.04,116.21 139.58,115.75 140.13,115.29 140.67,114.83 141.22,114.36 141.76,113.90 142.31,113.43 142.85,112.97 143.40,112.50 143.94,112.03 144.49,111.56 145.03,111.09 145.57,110.62 146.12,110.14 146.66,109.67 147.21,109.19 147.75,108.72 148.30,108.24 148.84,107.76 149.39,107.28 149.93,106.80 150.48,106.31 151.02,105.83 151.57,105.34 152.11,104.85 152.66,104.37 153.20,103.88 153.74,103.38 154.29,102.89 154.83,102.40 155.38,101.90 155.92,101.40 156.47,100.90 157.01,100.40 157.56,99.90 158.10,99.40 158.65,98.89 159.19,98.39 159.74,97.89 160.28,97.38 160.83,96.88 161.37,96.37 161.91,95.87 162.46,95.36 163.00,94.86 163.55,94.35 164.09,93.85 164.64,93.34 165.18,92.84 165.73,92.34 166.27,91.83 166.82,91.33 167.36,90.82 167.91,90.32 168.45,89.82 169.00,89.31 169.54,88.81 170.08,88.31 170.63,87.81 171.17,87.30 171.72,86.80 172.26,86.30 172.81,85.80 173.35,85.30 173.90,84.80 174.44,84.31 174.99,83.81 175.53,83.31 176.08,82.81 176.62,82.32 177.17,81.82 177.71,81.33 178.25,80.84 178.80,80.34 179.34,79.85 179.89,79.36 180.43,78.87 180.98,78.38 181.52,77.89 182.07,77.41 182.61,76.92 183.16,76.43 183.70,75.95 184.25,75.47 184.79,74.98 185.33,74.50 185.88,74.02 186.42,73.54 186.97,73.06 187.51,72.58 188.06,72.11 188.60,71.63 189.15,71.16 189.69,70.68 190.24,70.21 190.78,69.73 191.33,69.26 191.87,68.79 192.42,68.32 192.96,67.85 193.50,67.38 194.05,66.91 194.59,66.44 195.14,65.98 195.68,65.51 196.23,65.04 196.77,64.58 197.32,64.11 197.86,63.65 198.41,63.19 198.95,62.72 199.50,62.26 200.04,61.80 200.59,61.34 201.13,60.88 201.67,60.42 202.22,59.96 202.76,59.50 203.31,59.04 203.85,58.58 204.40,58.13 204.94,57.67 205.49,57.21 206.03,56.76 206.58,56.30 207.12,55.85 207.67,55.39 208.21,54.94 208.76,54.49 209.30,54.03 209.84,53.58 210.39,53.13 210.93,52.68 211.48,52.22 212.02,51.77 212.57,51.32 213.11,50.87 213.66,50.42 214.20,49.97 214.75,49.52 215.29,49.07 215.84,48.62 216.38,48.17 216.93,47.72 217.47,47.27 218.01,46.82 218.56,46.38 219.10,45.93 219.65,45.48 220.19,45.03 220.74,44.58 221.28,44.14 221.83,43.69 222.37,43.24 222.92,42.80 223.46,42.35 224.01,41.90 224.55,41.46 225.10,41.01 225.64,40.56 226.18,40.12 226.73,39.67 227.27,39.23 227.82,38.78 228.36,38.34 228.91,37.90 229.45,37.45 230.00,37.01 230.54,36.57 231.09,36.13 231.63,35.68 232.18,35.24 232.72,34.80 233.27,34.36 233.81,33.92 234.35,33.48 234.90,33.04 235.44,32.60 235.99,32.17 236.53,31.73 237.08,31.29 237.62,30.85 238.17,30.42 238.71,29.98 239.26,29.55 239.80,29.11 240.35,28.68 240.89,28.25 241.44,27.82 241.98,27.38 242.52,26.95 243.07,26.52 243.61,26.09 244.16,25.66 244.70,25.24 245.25,24.81 245.79,24.38 246.34,23.96 246.88,23.53 247.43,23.11 247.97,22.68 248.52,22.26 249.06,21.84 249.61,21.42 250.15,21.00 250.69,20.58 251.24,20.16 251.78,19.74 252.33,19.32 252.87,18.91 253.42,18.49 253.96,18.08 254.51,17.66 255.05,17.25 255.60,16.84 256.14,16.43 256.69,16.02 257.23,15.61 257.78,15.21 258.32,14.80 258.86,14.39 259.41,13.99 259.95,13.59 260.50,13.19 261.04,12.78 261.59,12.38 262.13,11.99 262.68,11.59" fill="none" stroke="#0aa760" stroke-width="1.45" stroke-linejoin="round"/>
<polyline points="99.82,162.47 100.37,162.03 100.91,161.58 101.46,161.13 102.00,160.68 102.55,160.23 103.09,159.78 103.64,159.34 104.18,158.89 104.72,158.44 105.27,157.99 105.81,157.55 106.36,157.10 106.90,156.65 107.45,156.20 107.99,155.75 108.54,155.31 109.08,154.86 109.63,154.41 110.17,153.96 110.72,153.52 111.26,153.07 111.81,152.62 112.35,152.17 112.89,151.72 113.44,151.28 113.98,150.83 114.53,150.38 115.07,149.93 115.62,149.48 116.16,149.03 116.71,148.58 117.25,148.13 117.80,147.68 118.34,147.23 118.89,146.78 119.43,146.33 119.98,145.88 120.52,145.43 121.06,144.98 121.61,144.53 122.15,144.08 122.70,143.63 123.24,143.17 123.79,142.72 124.33,142.27 124.88,141.81 125.42,141.36 125.97,140.91 126.51,140.45 127.06,140.00 127.60,139.54 128.15,139.09 128.69,138.63 129.23,138.17 129.78,137.72 130.32,137.26 130.87,136.80 131.41,136.34 131.96,135.89 132.50,135.43 133.05,134.97 133.59,134.51 134.14,134.05 134.68,133.58 135.23,133.12 135.77,132.66 136.32,132.20 136.86,131.73 137.40,131.27 137.95,130.80 138.49,130.34 139.04,129.87 139.58,129.40 140.13,128.94 140.67,128.47 141.22,128.00 141.76,127.53 142.31,127.06 142.85,126.59 143.40,126.12 143.94,125.64 144.49,125.17 145.03,124.70 145.57,124.22 146.12,123.75 146.66,123.27 147.21,122.80 147.75,122.32 148.30,121.84 148.84,121.36 149.39,120.88 149.93,120.40 150.48,119.92 151.02,119.44 151.57,118.95 152.11,118.46 152.66,117.97 153.20,117.48 153.74,116.98 154.29,116.48 154.83,115.98 155.38,115.48 155.92,114.98 156.47,114.47 157.01,113.96 157.56,113.45 158.10,112.94 158.65,112.43 159.19,111.92 159.74,111.40 160.28,110.88 160.83,110.36 161.37,109.85 161.91,109.33 162.46,108.80 163.00,108.28 163.55,107.76 164.09,107.24 164.64,106.71 165.18,106.19 165.73,105.66 166.27,105.14 166.82,104.61 167.36,104.09 167.91,103.56 168.45,103.03 169.00,102.51 169.54,101.98 170.08,101.46 170.63,100.93 171.17,100.41 171.72,99.89 172.26,99.36 172.81,98.84 173.35,98.32 173.90,97.80 174.44,97.28 174.99,96.75 175.53,96.23 176.08,95.71 176.62,95.18 177.17,94.66 177.71,94.13 178.25,93.61 178.80,93.08 179.34,92.55 179.89,92.02 180.43,91.50 180.98,90.97 181.52,90.44 182.07,89.91 182.61,89.38 183.16,88.85 183.70,88.32 184.25,87.80 184.79,87.27 185.33,86.74 185.88,86.21 186.42,85.68 186.97,85.15 187.51,84.63 188.06,84.10 188.60,83.57 189.15,83.05 189.69,82.52 190.24,81.99 190.78,81.47 191.33,80.95 191.87,80.42 192.42,79.90 192.96,79.38 193.50,78.86 194.05,78.34 194.59,77.82 195.14,77.31 195.68,76.79 196.23,76.28 196.77,75.76 197.32,75.25 197.86,74.74 198.41,74.23 198.95,73.72 199.50,73.21 200.04,72.70 200.59,72.19 201.13,71.68 201.67,71.17 202.22,70.67 202.76,70.16 203.31,69.66 203.85,69.15 204.40,68.65 204.94,68.15 205.49,67.65 206.03,67.14 206.58,66.64 207.12,66.14 207.67,65.65 208.21,65.15 208.76,64.65 209.30,64.16 209.84,63.66 210.39,63.17 210.93,62.67 211.48,62.18 212.02,61.69 212.57,61.20 213.11,60.71 213.66,60.22 214.20,59.73 214.75,59.24 215.29,58.75 215.84,58.27 216.38,57.78 216.93,57.30 217.47,56.82 218.01,56.34 218.56,55.86 219.10,55.38 219.65,54.90 220.19,54.42 220.74,53.95 221.28,53.48 221.83,53.01 222.37,52.54 222.92,52.08 223.46,51.63 224.01,51.17 224.55,50.72 225.10,50.27 225.64,49.82 226.18,49.38 226.73,48.94 227.27,48.50 227.82,48.06 228.36,47.62 228.91,47.18 229.45,46.75 230.00,46.32 230.54,45.89 231.09,45.45 231.63,45.02 232.18,44.59 232.72,44.16 233.27,43.74 233.81,43.31 234.35,42.88 234.90,42.45 235.44,42.02 235.99,41.59 236.53,41.16 237.08,40.73 237.62,40.30 238.17,39.86 238.71,39.43 239.26,38.99 239.80,38.55 240.35,38.11 240.89,37.67 241.44,37.23 241.98,36.78 242.52,36.34 243.07,35.89 243.61,35.44 244.16,34.98 244.70,34.53 245.25,34.08 245.79,33.63 246.34,33.18 246.88,32.74 247.43,32.29 247.97,31.84 248.52,31.40 249.06,30.95 249.61,30.51 250.15,30.06 250.69,29.62 251.24,29.18 251.78,28.73 252.33,28.29 252.87,27.85 253.42,27.41 253.96,26.97 254.51,26.53 255.05,26.09 255.60,25.66 256.14,25.22 256.69,24.78 257.23,24.35 257.78,23.91 258.32,23.48 258.86,23.04 259.41,22.61 259.95,22.18 260.50,21.74 261.04,21.31 261.59,20.88 262.13,20.45 262.68,20.02" fill="none" stroke="#c374e6" stroke-width="1.45" stroke-linejoin="round"/>
</g>
<line x1="103.70" y1="75.95" x2="214.60" y2="75.95" stroke="#8a8a8a" stroke-width="1.3" stroke-dasharray="1.8 2.6"/>
<line x1="182.26" y1="75.95" x2="182.26" y2="156.30" stroke="#8a8a8a" stroke-width="1.3" stroke-dasharray="1.8 2.6"/>
<line x1="184.51" y1="75.95" x2="184.51" y2="156.30" stroke="#8a8a8a" stroke-width="1.3" stroke-dasharray="1.8 2.6"/>
<line x1="193.89" y1="75.95" x2="193.89" y2="156.30" stroke="#8a8a8a" stroke-width="1.3" stroke-dasharray="1.8 2.6"/>
<line x1="196.99" y1="75.95" x2="196.99" y2="156.30" stroke="#8a8a8a" stroke-width="1.3" stroke-dasharray="1.8 2.6"/>
<line x1="214.67" y1="75.95" x2="214.67" y2="156.30" stroke="#8a8a8a" stroke-width="1.3" stroke-dasharray="1.8 2.6"/>
<line x1="101.20" y1="31.00" x2="259.30" y2="31.00" stroke="#a8a8a8" stroke-width="1.9"/>
<line x1="103.70" y1="31.00" x2="103.70" y2="156.30" stroke="#6a6a6a" stroke-width="1.1"/>
<line x1="258.80" y1="31.00" x2="258.80" y2="156.30" stroke="#7a7a7a" stroke-width="1.2"/>
<line x1="103.70" y1="156.30" x2="259.30" y2="156.30" stroke="#6a6a6a" stroke-width="1.1"/>
<line x1="103.70" y1="156.3" x2="103.70" y2="158.50" stroke="#666" stroke-width="0.9"/>
<text x="103.70" y="165" font-size="5.3" text-anchor="middle" fill="#222" class="it">10</text>
<line x1="119.21" y1="156.3" x2="119.21" y2="158.50" stroke="#666" stroke-width="0.9"/>
<text x="119.21" y="165" font-size="5.3" text-anchor="middle" fill="#222" class="it">12</text>
<line x1="134.72" y1="156.3" x2="134.72" y2="158.50" stroke="#666" stroke-width="0.9"/>
<text x="134.72" y="165" font-size="5.3" text-anchor="middle" fill="#222" class="it">14</text>
<line x1="150.23" y1="156.3" x2="150.23" y2="158.50" stroke="#666" stroke-width="0.9"/>
<text x="150.23" y="165" font-size="5.3" text-anchor="middle" fill="#222" class="it">16</text>
<line x1="165.74" y1="156.3" x2="165.74" y2="158.50" stroke="#666" stroke-width="0.9"/>
<text x="165.74" y="165" font-size="5.3" text-anchor="middle" fill="#222" class="it">18</text>
<line x1="181.25" y1="156.3" x2="181.25" y2="158.50" stroke="#666" stroke-width="0.9"/>
<text x="181.25" y="165" font-size="5.3" text-anchor="middle" fill="#222" class="it">20</text>
<line x1="196.76" y1="156.3" x2="196.76" y2="158.50" stroke="#666" stroke-width="0.9"/>
<text x="196.76" y="165" font-size="5.3" text-anchor="middle" fill="#222" class="it">22</text>
<line x1="212.27" y1="156.3" x2="212.27" y2="158.50" stroke="#666" stroke-width="0.9"/>
<text x="212.27" y="165" font-size="5.3" text-anchor="middle" fill="#222" class="it">24</text>
<line x1="227.78" y1="156.3" x2="227.78" y2="158.50" stroke="#666" stroke-width="0.9"/>
<text x="227.78" y="165" font-size="5.3" text-anchor="middle" fill="#222" class="it">26</text>
<line x1="243.29" y1="156.3" x2="243.29" y2="158.50" stroke="#666" stroke-width="0.9"/>
<text x="243.29" y="165" font-size="5.3" text-anchor="middle" fill="#222" class="it">28</text>
<line x1="258.80" y1="156.3" x2="258.80" y2="158.50" stroke="#666" stroke-width="0.9"/>
<text x="258.80" y="165" font-size="5.3" text-anchor="middle" fill="#222" class="it">30</text>
<line x1="103.7" y1="150.33" x2="101.50" y2="150.33" stroke="#666" stroke-width="0.9"/>
<text x="99" y="152.23" font-size="5.3" text-anchor="end" fill="#222" class="it">25</text>
<line x1="103.7" y1="135.42" x2="101.50" y2="135.42" stroke="#666" stroke-width="0.9"/>
<text x="99" y="137.32" font-size="5.3" text-anchor="end" fill="#222" class="it">30</text>
<line x1="103.7" y1="120.50" x2="101.50" y2="120.50" stroke="#666" stroke-width="0.9"/>
<text x="99" y="122.40" font-size="5.3" text-anchor="end" fill="#222" class="it">35</text>
<line x1="103.7" y1="105.58" x2="101.50" y2="105.58" stroke="#666" stroke-width="0.9"/>
<text x="99" y="107.48" font-size="5.3" text-anchor="end" fill="#222" class="it">40</text>
<line x1="103.7" y1="90.67" x2="101.50" y2="90.67" stroke="#666" stroke-width="0.9"/>
<text x="99" y="92.57" font-size="5.3" text-anchor="end" fill="#222" class="it">45</text>
<line x1="103.7" y1="75.75" x2="101.50" y2="75.75" stroke="#666" stroke-width="0.9"/>
<text x="99" y="77.65" font-size="5.3" text-anchor="end" fill="#222" class="it">50</text>
<line x1="103.7" y1="60.83" x2="101.50" y2="60.83" stroke="#666" stroke-width="0.9"/>
<text x="99" y="62.73" font-size="5.3" text-anchor="end" fill="#222" class="it">55</text>
<line x1="103.7" y1="45.92" x2="101.50" y2="45.92" stroke="#666" stroke-width="0.9"/>
<text x="99" y="47.82" font-size="5.3" text-anchor="end" fill="#222" class="it">60</text>
<line x1="103.7" y1="31.00" x2="101.50" y2="31.00" stroke="#666" stroke-width="0.9"/>
<text x="99" y="32.90" font-size="5.3" text-anchor="end" fill="#222" class="it">65</text>
<text x="157.1" y="175.1" font-size="6.5" fill="#222" class="it">Particle size(um)</text>
<text transform="translate(90.6,129.8) rotate(-90)" font-size="6.5" fill="#222" class="it">Separation efficiency (%)</text>
<line x1="110.7" y1="36.60" x2="125.1" y2="36.60" stroke="#4b4b4b" stroke-width="1.4"/>
<text x="127.2" y="38.90" font-size="6.45" fill="#222" class="it">Conventional</text>
<line x1="110.7" y1="44.57" x2="125.1" y2="44.57" stroke="#fa3434" stroke-width="1.4"/>
<text x="127.2" y="46.87" font-size="6.45" fill="#222" class="it">Type A</text>
<line x1="110.7" y1="52.54" x2="125.1" y2="52.54" stroke="#1769e6" stroke-width="1.4"/>
<text x="127.2" y="54.84" font-size="6.45" fill="#222" class="it">Type B</text>
<line x1="110.7" y1="60.51" x2="125.1" y2="60.51" stroke="#0aa760" stroke-width="1.4"/>
<text x="127.2" y="62.81" font-size="6.45" fill="#222" class="it">Type C</text>
<line x1="110.7" y1="68.48" x2="125.1" y2="68.48" stroke="#c374e6" stroke-width="1.4"/>
<text x="127.2" y="70.78" font-size="6.45" fill="#222" class="it">Type D</text>
</svg></body></html>
